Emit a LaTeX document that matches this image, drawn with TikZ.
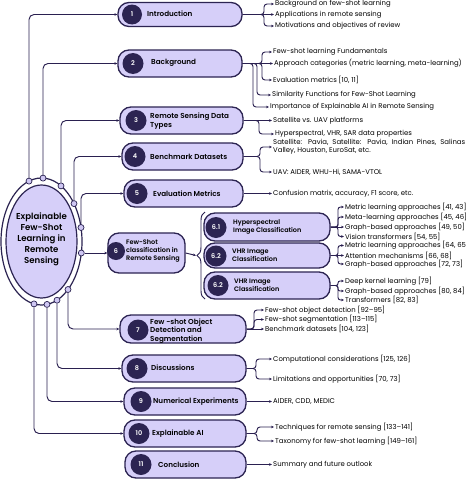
\documentclass[tikz,border=0pt]{standalone}
\usepackage{fontspec}
\setmainfont{Poppins}[BoldFont={Poppins SemiBold}]
\usetikzlibrary{arrows.meta,decorations.pathreplacing,calc}
\definecolor{dk}{HTML}{2C2452}
\definecolor{lav}{HTML}{D6CFF9}
\definecolor{lav2}{HTML}{CFC7F3}
\definecolor{ln}{HTML}{2A2050}
\begin{document}
\begin{tikzpicture}[x=1pt,y=-1pt,
  box/.style={draw=dk, line width=1.3pt, fill=lav, rounded corners=11pt, inner sep=0},
  num/.style={circle, fill=dk, text=white, font=\bfseries\fontsize{6.5}{7}\selectfont, inner sep=0, minimum size=21pt},
  ttl/.style={anchor=west, align=left, font=\bfseries\fontsize{7.2}{8.6}\selectfont, inner sep=0, text=black},
  sttl/.style={anchor=west, align=left, font=\bfseries\fontsize{6.5}{8.4}\selectfont, inner sep=0, text=black},
  leaf/.style={anchor=west, font=\fontsize{6.9}{8}\selectfont, inner xsep=1pt, inner ysep=0, text=black},
  conn/.style={draw=ln, line width=0.95pt},
  arr/.style={conn, -{Stealth[length=3pt,width=2.6pt]}},
  br/.style={arr, rounded corners=3pt},
  dot/.style={circle, draw=dk, fill=lav2, line width=0.7pt, inner sep=0, minimum size=6pt}
]
\useasboundingbox (0,0) rectangle (474,479);
\fill[white] (0,0) rectangle (474,479);

% central ellipse
\draw[dk, line width=1.2pt, fill=white] (41.5,241.5) ellipse [x radius=40.5, y radius=63.5];
\draw[dk, line width=1.2pt, fill=lav] (41.5,241.5) ellipse [x radius=35.5, y radius=56.5];
\node[font=\bfseries\fontsize{8.6}{11}\selectfont, align=center, text=black] (hub) at (41.5,239)
  {Explainable\\Few-Shot\\Learning in\\Remote\\Sensing};

% dots on ellipse
\node[dot] (d1) at (29,181.1) {};
\node[dot] (d2) at (43,178.1) {};
\node[dot] (d3) at (61,185.9) {};
\node[dot] (d4) at (74,203.6) {};
\node[dot] (d5) at (81,227.5) {};
\node[dot] (d6) at (81.3,253) {};
\node[dot] (d7) at (68,289.5) {};
\node[dot] (d8) at (57,300.2) {};
\node[dot] (d9) at (47,304.4) {};
\node[dot] (d10) at (34,303.9) {};

% main boxes
\node[box, minimum width=124pt, minimum height=24pt] (b1) at (180,14.5) {};
\node[box, minimum width=124pt, minimum height=27pt] (b2) at (180,63.5) {};
\node[box, minimum width=123pt, minimum height=27pt] (b3) at (181.5,120.5) {};
\node[box, minimum width=121pt, minimum height=27pt] (b4) at (182.5,156.5) {};
\node[box, minimum width=119pt, minimum height=27pt] (b5) at (183.5,193.5) {};
\node[box, minimum width=77pt, minimum height=40pt] (b6) at (146.5,253) {};
\node[box, minimum width=126pt, minimum height=28pt] (b61) at (267,227) {};
\node[box, minimum width=126pt, minimum height=25pt] (b62) at (267,255.5) {};
\node[box, minimum width=126pt, minimum height=27pt] (b63) at (267,285.5) {};
\node[box, minimum width=126pt, minimum height=28pt] (b7) at (183,329) {};
\node[box, minimum width=124pt, minimum height=27pt] (b8) at (184,368.5) {};
\node[box, minimum width=122pt, minimum height=27pt] (b9) at (185,401.5) {};
\node[box, minimum width=122pt, minimum height=27pt] (b10) at (185,433.5) {};
\node[box, minimum width=121pt, minimum height=27pt] (b11) at (185.5,464.5) {};

% number circles
\node[num, minimum size=20pt] (n1) at (132,14.5) {1};
\node[num] (n2) at (133,63.5) {2};
\node[num] (n3) at (136,120.5) {3};
\node[num] (n4) at (135,156.5) {4};
\node[num] (n5) at (137,193.5) {5};
\node[num, minimum size=18pt] (n6) at (116,251) {6};
\node[num] (n61) at (216,227.5) {6.1};
\node[num] (n62) at (216,256) {6.2};
\node[num] (n63) at (218,285.5) {6.2};
\node[num] (n7) at (138,330) {7};
\node[num] (n8) at (137,368.5) {8};
\node[num] (n9) at (141,401.5) {9};
\node[num] (n10) at (139,433.5) {10};
\node[num] (n11) at (141,464.5) {11};

% titles
\node[ttl] (t1) at (147,13.5) {Introduction};
\node[ttl] (t2) at (151,63) {Background};
\node[ttl] (t3) at (150,121) {Remote Sensing Data\\Types};
\node[ttl] (t4) at (150,157) {Benchmark Datasets};
\node[ttl] (t5) at (153,194) {Evaluation Metrics};
\node[sttl] (t6) at (126,251) {Few-Shot\\classification in\\Remote Sensing};
\node[sttl] (t61) at (233,227) {Hyperspectral\\Image Classification};
\node[sttl] (t62) at (232,255) {VHR Image\\Classification};
\node[sttl] (t63) at (234,285) {VHR Image\\Classification};
\node[ttl] (t7) at (150,331) {Few -shot Object\\Detection and\\Segmentation};
\node[ttl] (t8) at (151,367.5) {Discussions};
\node[ttl] (t9) at (153,401.5) {Numerical Experiments};
\node[ttl] (t10) at (152,434) {Explainable AI};
\node[ttl] (t11) at (158,465) {Conclusion};

% connectors from hub
\draw[arr, rounded corners=5pt] (d1) |- (b1.west);
\draw[arr, rounded corners=5pt] (d2) |- (b2.west);
\draw[arr, rounded corners=5pt] (d3) |- (b3.west);
\draw[arr, rounded corners=5pt] (d4) |- (b4.west);
\draw[arr, rounded corners=5pt] (d5) |- (b5.west);
\draw[arr] (d6) -- (b6.west);
\draw[arr, rounded corners=5pt] (d7) |- (b7.west);
\draw[arr, rounded corners=5pt] (d8) |- (b8.west);
\draw[arr, rounded corners=5pt] (d9) |- (b9.west);
\draw[arr, rounded corners=5pt] (d10) |- (b10.west);

% brace for section 6
\draw[conn, decorate, decoration={brace, amplitude=8pt}] (205,299) -- (205,212);
\coordinate (bt) at (196,255.5);
\draw[arr] (b6.east) -- (bt);

% leaves
\node[leaf] (a1a) at (274,4) {Background on few-shot learning};
\node[leaf] (a1b) at (274,14.5) {Applications in remote sensing};
\node[leaf] (a1c) at (274,26) {Motivations and objectives of review};

\node[leaf] (a2a) at (272,52) {Few-shot learning Fundamentals};
\node[leaf] (a2b) at (273,63.5) {Approach categories (metric learning, meta-learning)};
\node[leaf] (a2c) at (272,80) {Evaluation metrics [10, 11]};
\node[leaf] (a2d) at (271,95) {Similarity Functions for Few-Shot Learning};
\node[leaf] (a2e) at (269,107) {Importance of Explainable AI in Remote Sensing};

\node[leaf] (a3a) at (272,120.5) {Satellite vs. UAV platforms};
\node[leaf] (a3b) at (274,134) {Hyperspectral, VHR, SAR data properties};

\node[leaf, text width=192pt, align=justify] (a4a) at (272,147)
  {Satellite: Pavia, Satellite: Pavia, Indian Pines, Salinas\linebreak Valley, Houston, EuroSat, etc.};
\node[leaf] (a4b) at (272,172) {UAV: AIDER, WHU-Hi, SAMA-VTOL};

\node[leaf] (a5a) at (272,193.5) {Confusion matrix, accuracy, F1 score, etc.};

\node[leaf] (a61a) at (344,207) {Metric learning approaches [41, 43]};
\node[leaf] (a61b) at (344,217) {Meta-learning approaches [45, 46]};
\node[leaf] (a61c) at (344,227) {Graph-based approaches [49, 50]};
\node[leaf] (a61d) at (344,236.5) {Vision transformers [54, 55]};

\node[leaf] (a62a) at (344,245.5) {Metric learning approaches [64, 65};
\node[leaf] (a62b) at (344,255.5) {Attention mechanisms [66, 68]};
\node[leaf] (a62c) at (344,264) {Graph-based approaches [72, 73]};

\node[leaf] (a63a) at (344,281) {Deep kernel learning [79]};
\node[leaf] (a63b) at (344,291) {Graph-based approaches [80, 84]};
\node[leaf] (a63c) at (344,300) {Transformers [82, 83]};

\node[leaf] (a7a) at (264,310) {Few-shot object detection [92–95]};
\node[leaf] (a7b) at (264,319.5) {Few-shot segmentation [113–115]};
\node[leaf] (a7c) at (264,329) {Benchmark datasets [104, 123]};

\node[leaf] (a8a) at (272,359) {Computational considerations [125, 126]};
\node[leaf] (a8b) at (272,379) {Limitations and opportunities [70, 73]};

\node[leaf] (a9a) at (272,401.5) {AIDER, CDD, MEDIC};

\node[leaf] (a10a) at (274,427) {Techniques for remote sensing [133–141]};
\node[leaf] (a10b) at (274,441) {Taxonomy for few-shot learning [149–161]};

\node[leaf] (a11a) at (272,464.5) {Summary and future outlook};

% leaf connectors
\draw[br] (b1.east) -| ([xshift=-10pt]a1a.west) -- (a1a.west);
\draw[arr] (b1.east) -- (a1b.west);
\draw[br] (b1.east) -| ([xshift=-10pt]a1c.west) -- (a1c.west);

\draw[br] (b2.east) -| ([xshift=-10pt]a2a.west) -- (a2a.west);
\draw[arr] (b2.east) -- (a2b.west);
\draw[br] (b2.east) -| ([xshift=-10pt]a2c.west) -- (a2c.west);
\draw[br] (b2.east) -| ([xshift=-14pt]a2d.west) -- (a2d.west);
\draw[br] (b2.east) -| ([xshift=-16pt]a2e.west) -- (a2e.west);

\draw[arr] (b3.east) -- (a3a.west);
\draw[br] (b3.east) -| ([xshift=-15pt]a3b.west) -- (a3b.west);

\draw[br] (b4.east) -| ([xshift=-12pt]a4a.west) -- (a4a.west);
\draw[br] (b4.east) -| ([xshift=-12pt]a4b.west) -- (a4b.west);

\draw[arr] (b5.east) -- (a5a.west);

\draw[br, rounded corners=2.5pt] (b61.east) -| ([xshift=-6pt]a61a.west) -- (a61a.west);
\draw[br, rounded corners=2.5pt] (b61.east) -| ([xshift=-6pt]a61b.west) -- (a61b.west);
\draw[arr] (b61.east) -- (a61c.west);
\draw[br, rounded corners=2.5pt] (b61.east) -| ([xshift=-6pt]a61d.west) -- (a61d.west);

\draw[br, rounded corners=2.5pt] (b62.east) -| ([xshift=-6pt]a62a.west) -- (a62a.west);
\draw[arr] (b62.east) -- (a62b.west);
\draw[br, rounded corners=2.5pt] (b62.east) -| ([xshift=-6pt]a62c.west) -- (a62c.west);

\draw[br, rounded corners=2pt] (b63.east) -| ([xshift=-6pt]a63a.west) -- (a63a.west);
\draw[br, rounded corners=2pt] (b63.east) -| ([xshift=-6pt]a63b.west) -- (a63b.west);
\draw[br, rounded corners=2.5pt] (b63.east) -| ([xshift=-6pt]a63c.west) -- (a63c.west);

\draw[br] (b7.east) -| ([xshift=-10pt]a7a.west) -- (a7a.west);
\draw[br] (b7.east) -| ([xshift=-10pt]a7b.west) -- (a7b.west);
\draw[arr] (b7.east) -- (a7c.west);

\draw[br] (b8.east) -| ([xshift=-16pt]a8a.west) -- (a8a.west);
\draw[br] (b8.east) -| ([xshift=-16pt]a8b.west) -- (a8b.west);

\draw[arr] (b9.east) -- (a9a.west);

\draw[br] (b10.east) -| ([xshift=-17pt]a10a.west) -- (a10a.west);
\draw[br] (b10.east) -| ([xshift=-17pt]a10b.west) -- (a10b.west);

\draw[arr] (b11.east) -- (a11a.west);
\end{tikzpicture}
\end{document}
